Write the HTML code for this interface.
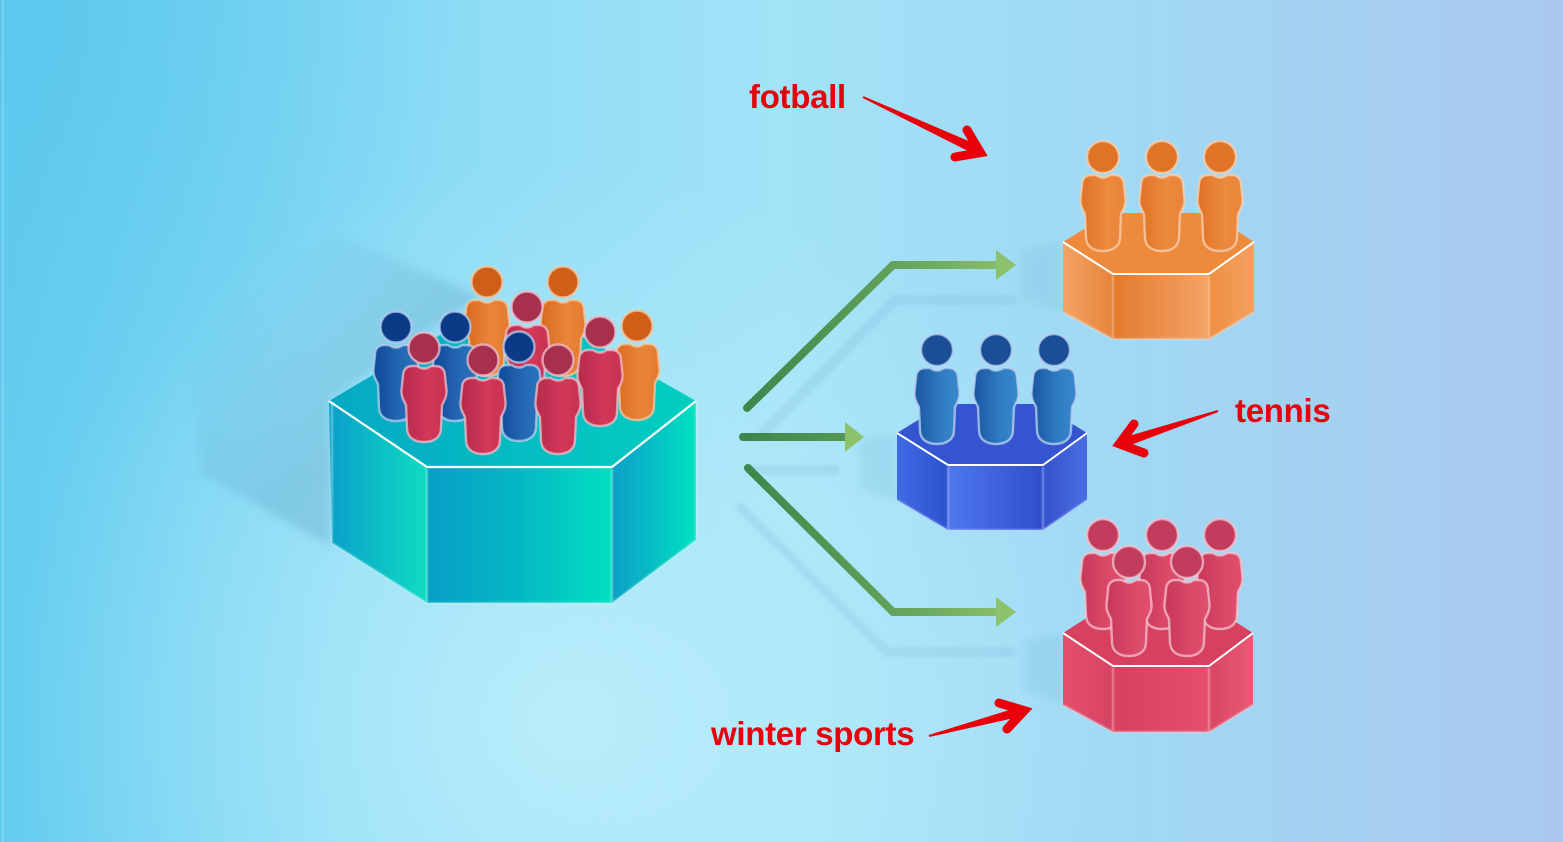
<!DOCTYPE html>
<html><head><meta charset="utf-8"><style>
html,body{margin:0;padding:0;width:1563px;height:842px;overflow:hidden;background:#8fdcf5;}
svg{display:block}
text{font-family:"Liberation Sans",sans-serif;font-weight:bold;fill:#e8000b;}
</style></head><body>
<svg width="1563" height="842" viewBox="0 0 1563 842" xmlns="http://www.w3.org/2000/svg">
<defs>
  <linearGradient id="bg" x1="0" y1="0" x2="1" y2="0">
    <stop offset="0" stop-color="#62ccef"/>
    <stop offset="0.22" stop-color="#86daf5"/>
    <stop offset="0.5" stop-color="#a2e3f7"/>
    <stop offset="0.72" stop-color="#a0d9f4"/>
    <stop offset="1" stop-color="#aac8ee"/>
  </linearGradient>
  <radialGradient id="glow" cx="560" cy="720" r="560" gradientUnits="userSpaceOnUse">
    <stop offset="0" stop-color="#c6f2fc" stop-opacity="0.75"/>
    <stop offset="1" stop-color="#c6f2fc" stop-opacity="0"/>
  </radialGradient>
  <radialGradient id="tl" cx="0" cy="0" r="480" gradientUnits="userSpaceOnUse">
    <stop offset="0" stop-color="#58c6ec" stop-opacity="0.7"/>
    <stop offset="1" stop-color="#58c6ec" stop-opacity="0"/>
  </radialGradient>
  <linearGradient id="shd" x1="335" y1="450" x2="200" y2="330" gradientUnits="userSpaceOnUse">
    <stop offset="0" stop-color="#4a8fb8" stop-opacity="0.28"/>
    <stop offset="1" stop-color="#4a8fb8" stop-opacity="0"/>
  </linearGradient>
  <filter id="bl6" x="-20%" y="-20%" width="140%" height="140%"><feGaussianBlur stdDeviation="5"/></filter>
  <filter id="bl2" x="-20%" y="-20%" width="140%" height="140%"><feGaussianBlur stdDeviation="1.6"/></filter>
  <filter id="soft" x="-10%" y="-10%" width="120%" height="120%"><feGaussianBlur stdDeviation="0.7"/></filter>
  <filter id="halo" x="-20%" y="-20%" width="140%" height="140%"><feGaussianBlur stdDeviation="1.2"/></filter>

  <linearGradient id="tTop" x1="0" y1="0" x2="1" y2="0">
    <stop offset="0" stop-color="#06a8c4"/><stop offset="1" stop-color="#02cfc0"/>
  </linearGradient>
  <linearGradient id="tL" x1="0" y1="0" x2="1" y2="0">
    <stop offset="0" stop-color="#0a9fca"/><stop offset="1" stop-color="#10dcc2"/>
  </linearGradient>
  <linearGradient id="tF" x1="0" y1="0" x2="1" y2="0">
    <stop offset="0" stop-color="#079ec6"/><stop offset="0.5" stop-color="#05b8c4"/><stop offset="1" stop-color="#02e0c0"/>
  </linearGradient>
  <linearGradient id="tR" x1="0" y1="0" x2="1" y2="0">
    <stop offset="0" stop-color="#0c9ec8"/><stop offset="1" stop-color="#00e2c0"/>
  </linearGradient>
  <linearGradient id="oL" x1="0" y1="0" x2="1" y2="0">
    <stop offset="0" stop-color="#f4a466"/><stop offset="1" stop-color="#e6843a"/>
  </linearGradient>
  <linearGradient id="oF" x1="0" y1="0" x2="1" y2="0">
    <stop offset="0" stop-color="#e27a2e"/><stop offset="1" stop-color="#f5a468"/>
  </linearGradient>
  <linearGradient id="oR" x1="0" y1="0" x2="1" y2="0">
    <stop offset="0" stop-color="#ee9042"/><stop offset="1" stop-color="#f4a060"/>
  </linearGradient>
  <linearGradient id="bL" x1="0" y1="0" x2="1" y2="0">
    <stop offset="0" stop-color="#3f6ae6"/><stop offset="1" stop-color="#2d52cc"/>
  </linearGradient>
  <linearGradient id="bF" x1="0" y1="0" x2="1" y2="0">
    <stop offset="0" stop-color="#4f78ee"/><stop offset="1" stop-color="#2f4ecc"/>
  </linearGradient>
  <linearGradient id="bR" x1="0" y1="0" x2="1" y2="0">
    <stop offset="0" stop-color="#3352cc"/><stop offset="1" stop-color="#4a6ee2"/>
  </linearGradient>
  <linearGradient id="rL" x1="0" y1="0" x2="1" y2="0">
    <stop offset="0" stop-color="#e6506e"/><stop offset="1" stop-color="#d64262"/>
  </linearGradient>
  <linearGradient id="rF" x1="0" y1="0" x2="1" y2="0">
    <stop offset="0" stop-color="#d8405f"/><stop offset="1" stop-color="#e44f6c"/>
  </linearGradient>
  <linearGradient id="rR" x1="0" y1="0" x2="1" y2="0">
    <stop offset="0" stop-color="#da4664"/><stop offset="1" stop-color="#e85a74"/>
  </linearGradient>

  <linearGradient id="gO" x1="0" y1="0" x2="1" y2="0">
    <stop offset="0" stop-color="#d8691f"/><stop offset="0.6" stop-color="#e9853a"/><stop offset="1" stop-color="#e27a30"/>
  </linearGradient>
  <linearGradient id="gR" x1="0" y1="0" x2="1" y2="0">
    <stop offset="0" stop-color="#b52a4a"/><stop offset="0.6" stop-color="#d2385a"/><stop offset="1" stop-color="#c83252"/>
  </linearGradient>
  <linearGradient id="gB" x1="0" y1="0" x2="1" y2="0">
    <stop offset="0" stop-color="#0e4896"/><stop offset="0.6" stop-color="#2468b4"/><stop offset="1" stop-color="#2a74be"/>
  </linearGradient>
  <linearGradient id="gB2" x1="0" y1="0" x2="1" y2="0">
    <stop offset="0" stop-color="#1a559f"/><stop offset="0.6" stop-color="#2f7cc4"/><stop offset="1" stop-color="#3a88cc"/>
  </linearGradient>
  <linearGradient id="gR2" x1="0" y1="0" x2="1" y2="0">
    <stop offset="0" stop-color="#c63858"/><stop offset="0.6" stop-color="#dc4868"/><stop offset="1" stop-color="#e0506e"/>
  </linearGradient>
  <linearGradient id="gO2" x1="0" y1="0" x2="1" y2="0">
    <stop offset="0" stop-color="#de7226"/><stop offset="0.6" stop-color="#ec8a3e"/><stop offset="1" stop-color="#e9843a"/>
  </linearGradient>

  <linearGradient id="grn" x1="743" y1="0" x2="1016" y2="0" gradientUnits="userSpaceOnUse">
    <stop offset="0" stop-color="#3c864c"/><stop offset="0.5" stop-color="#5e9e58"/><stop offset="1" stop-color="#8cc26c"/>
  </linearGradient>

  <path id="b" d="M-21,28 C-21,21 -17,18 -11,18 L-7,18 Q0,23 7,18 L11,18 C17,18 21,21 21,28 L22.5,42 C23,49 20,53 18,57 L17,80 C17,90 9,94 0,94 C-9,94 -17,90 -17,80 L-18,57 C-20,53 -23,49 -22.5,42 Z"/>
</defs>

<rect width="1563" height="842" fill="url(#bg)"/>
<rect width="1563" height="842" fill="url(#tl)"/>
<rect width="1563" height="842" fill="url(#glow)"/>
<rect x="2" y="0" width="1.5" height="842" fill="#ffffff" opacity="0.25"/>

<polygon points="480,296 330,232 190,340 200,473 332,547 330,400" fill="url(#shd)" filter="url(#bl6)"/>
<polygon points="1063,242 1063,312 1020,300 1020,250" fill="#4a8fb8" opacity="0.10" filter="url(#bl6)"/>
<polygon points="897,433 897,500 860,488 860,440" fill="#4a8fb8" opacity="0.12" filter="url(#bl6)"/>
<polygon points="1063,633 1063,705 1025,690 1025,640" fill="#4a8fb8" opacity="0.12" filter="url(#bl6)"/>

<g fill="none" stroke="#6a9cbf" stroke-opacity="0.16" stroke-width="10" stroke-linecap="round" filter="url(#bl2)">
  <path d="M763,433 L895,300 L1012,300"/>
  <path d="M752,470 L835,470"/>
  <path d="M740,507 L887,652 L1012,652"/>
</g>

<g fill="none" stroke="url(#grn)" stroke-width="8" stroke-linecap="round" stroke-linejoin="round">
  <path d="M747,408 L893,265 L998,265"/>
  <path d="M743,437 L848,437"/>
  <path d="M748,468 L893,612 L998,612"/>
</g>
<g fill="#8cc26c">
  <polygon points="996,250 1016,265 996,280"/>
  <polygon points="845,422 864,437 845,452"/>
  <polygon points="996,597 1016,612 996,627"/>
</g>

<!-- BIG PRISM -->
<g>
  <polygon points="329,401 440,335 580,335 696,401 612,467 427,467" fill="url(#tTop)"/>
  <polygon points="329,401 427,467 427,603 332,543" fill="url(#tL)"/>
  <polygon points="427,467 612,467 612,603 427,603" fill="url(#tF)"/>
  <polygon points="612,467 696,401 696,540 612,603" fill="url(#tR)"/>
  <g stroke="#bff8f0" stroke-opacity="0.45" stroke-width="2" fill="none" filter="url(#soft)">
    <path d="M427,469 L427,603 M612,469 L612,603 M696,403 L696,540 M332,403 L332,543 M332,543 L427,603 L612,603 L696,540"/>
  </g>
  <polyline points="329,401 427,467 612,467 696,401" fill="none" stroke="#ffffff" stroke-width="2.2"/>
</g>

<g stroke-width="2.4" stroke-opacity="0.75">
  <g transform="translate(487,282)" stroke="#f3c9a6"><use href="#b" fill="url(#gO)"/><circle r="15.5" fill="#cf5e18"/></g>
  <g transform="translate(563,282)" stroke="#f3c9a6"><use href="#b" fill="url(#gO)"/><circle r="15.5" fill="#cf5e18"/></g>
  <g transform="translate(527,307)" stroke="#f0c0cc"><use href="#b" fill="url(#gR)"/><circle r="15.5" fill="#a8304f"/></g>
  <g transform="translate(396,327)" stroke="#b8cff0"><use href="#b" fill="url(#gB)"/><circle r="15.5" fill="#0b3a86"/></g>
  <g transform="translate(455,327)" stroke="#b8cff0"><use href="#b" fill="url(#gB)"/><circle r="15.5" fill="#0b3a86"/></g>
  <g transform="translate(637,326)" stroke="#f3c9a6"><use href="#b" fill="url(#gO)"/><circle r="15.5" fill="#cf5e18"/></g>
  <g transform="translate(600,332)" stroke="#f0c0cc"><use href="#b" fill="url(#gR)"/><circle r="15.5" fill="#a8304f"/></g>
  <g transform="translate(424,348)" stroke="#f0c0cc"><use href="#b" fill="url(#gR)"/><circle r="15.5" fill="#a8304f"/></g>
  <g transform="translate(519,347)" stroke="#b8cff0"><use href="#b" fill="url(#gB)"/><circle r="15.5" fill="#0b3a86"/></g>
  <g transform="translate(483,360)" stroke="#f0c0cc"><use href="#b" fill="url(#gR)"/><circle r="15.5" fill="#a8304f"/></g>
  <g transform="translate(558,360)" stroke="#f0c0cc"><use href="#b" fill="url(#gR)"/><circle r="15.5" fill="#a8304f"/></g>
</g>

<!-- ORANGE PRISM -->
<g>
  <polygon points="1063,242 1110,213 1210,213 1254,242 1209,274 1113,274" fill="#ee8a3c"/>
  <polygon points="1063,242 1113,274 1113,339 1063,312" fill="url(#oL)"/>
  <polygon points="1113,274 1209,274 1209,339 1113,339" fill="url(#oF)"/>
  <polygon points="1209,274 1254,242 1254,312 1209,339" fill="url(#oR)"/>
  <g stroke="#ffd8b8" stroke-opacity="0.5" stroke-width="2" fill="none" filter="url(#soft)">
    <path d="M1113,276 L1113,339 M1209,276 L1209,339 M1063,312 L1113,339 L1209,339 L1254,312"/>
  </g>
  <polyline points="1063,242 1113,274 1209,274 1254,242" fill="none" stroke="#ffffff" stroke-width="2"/>
</g>
<g stroke-width="2.4" stroke-opacity="0.75" stroke="#f8d2b2">
  <g transform="translate(1103,157)"><use href="#b" fill="url(#gO2)"/><circle r="16" fill="#e07426"/></g>
  <g transform="translate(1162,157)"><use href="#b" fill="url(#gO2)"/><circle r="16" fill="#e07426"/></g>
  <g transform="translate(1220,157)"><use href="#b" fill="url(#gO2)"/><circle r="16" fill="#e07426"/></g>
</g>

<!-- BLUE PRISM -->
<g>
  <polygon points="897,433 944,404 1040,404 1087,433 1043,465 948,465" fill="#3454d0"/>
  <polygon points="897,433 948,465 948,530 897,500" fill="url(#bL)"/>
  <polygon points="948,465 1043,465 1043,530 948,530" fill="url(#bF)"/>
  <polygon points="1043,465 1087,433 1087,500 1043,530" fill="url(#bR)"/>
  <g stroke="#b8c8ff" stroke-opacity="0.5" stroke-width="2" fill="none" filter="url(#soft)">
    <path d="M948,467 L948,530 M1043,467 L1043,530 M897,500 L948,530 L1043,530 L1087,500"/>
  </g>
  <polyline points="897,433 948,465 1043,465 1087,433" fill="none" stroke="#ffffff" stroke-width="2"/>
</g>
<g stroke-width="2.4" stroke-opacity="0.75" stroke="#bcd4f0">
  <g transform="translate(937,350)"><use href="#b" fill="url(#gB2)"/><circle r="16" fill="#1a4f98"/></g>
  <g transform="translate(996,350)"><use href="#b" fill="url(#gB2)"/><circle r="16" fill="#1a4f98"/></g>
  <g transform="translate(1054,350)"><use href="#b" fill="url(#gB2)"/><circle r="16" fill="#1a4f98"/></g>
</g>

<!-- RED PRISM -->
<g>
  <polygon points="1063,633 1110,603 1206,603 1253,633 1209,666 1113,666" fill="#d8405f"/>
  <polygon points="1063,633 1113,666 1113,732 1063,705" fill="url(#rL)"/>
  <polygon points="1113,666 1209,666 1209,732 1113,732" fill="url(#rF)"/>
  <polygon points="1209,666 1253,633 1253,705 1209,732" fill="url(#rR)"/>
  <g stroke="#ffc8d4" stroke-opacity="0.5" stroke-width="2" fill="none" filter="url(#soft)">
    <path d="M1113,668 L1113,732 M1209,668 L1209,732 M1063,705 L1113,732 L1209,732 L1253,705"/>
  </g>
  <polyline points="1063,633 1113,666 1209,666 1253,633" fill="none" stroke="#ffffff" stroke-width="2"/>
</g>
<g stroke-width="2.4" stroke-opacity="0.75" stroke="#f4c4d0">
  <g transform="translate(1103,535)"><use href="#b" fill="url(#gR2)"/><circle r="16" fill="#c23c5e"/></g>
  <g transform="translate(1162,535)"><use href="#b" fill="url(#gR2)"/><circle r="16" fill="#c23c5e"/></g>
  <g transform="translate(1220,535)"><use href="#b" fill="url(#gR2)"/><circle r="16" fill="#c23c5e"/></g>
  <g transform="translate(1129,562)"><use href="#b" fill="url(#gR2)"/><circle r="16" fill="#c23c5e"/></g>
  <g transform="translate(1187,562)"><use href="#b" fill="url(#gR2)"/><circle r="16" fill="#c23c5e"/></g>
</g>

<!-- red arrows -->
<g fill="#e8000b">
  <polygon points="863.4,96.1 979.1,145.5 974.9,154.5 862.6,97.9"/>
  <polygon points="1218.3,412 1122.6,448 1119.4,438.6 1217.7,410"/>
  <polygon points="929.3,737 1024.3,715.8 1021.7,706.2 928.7,735"/>
</g>
<g fill="none" stroke="#e8000b" stroke-width="9" stroke-linecap="round" stroke-linejoin="miter" stroke-miterlimit="10">
  <polyline points="967,130 980.5,152.7 955,157"/>
  <polyline points="1134,424 1119.4,443.9 1144,453"/>
  <polyline points="999,703 1024.3,710.6 1007,729"/>
</g>

<text x="749" y="108" font-size="33" letter-spacing="-0.3">fotball</text>
<text x="1235" y="422" font-size="33" letter-spacing="-0.3">tennis</text>
<text x="711" y="745" font-size="33" letter-spacing="-0.3">winter sports</text>
</svg>
</body></html>
